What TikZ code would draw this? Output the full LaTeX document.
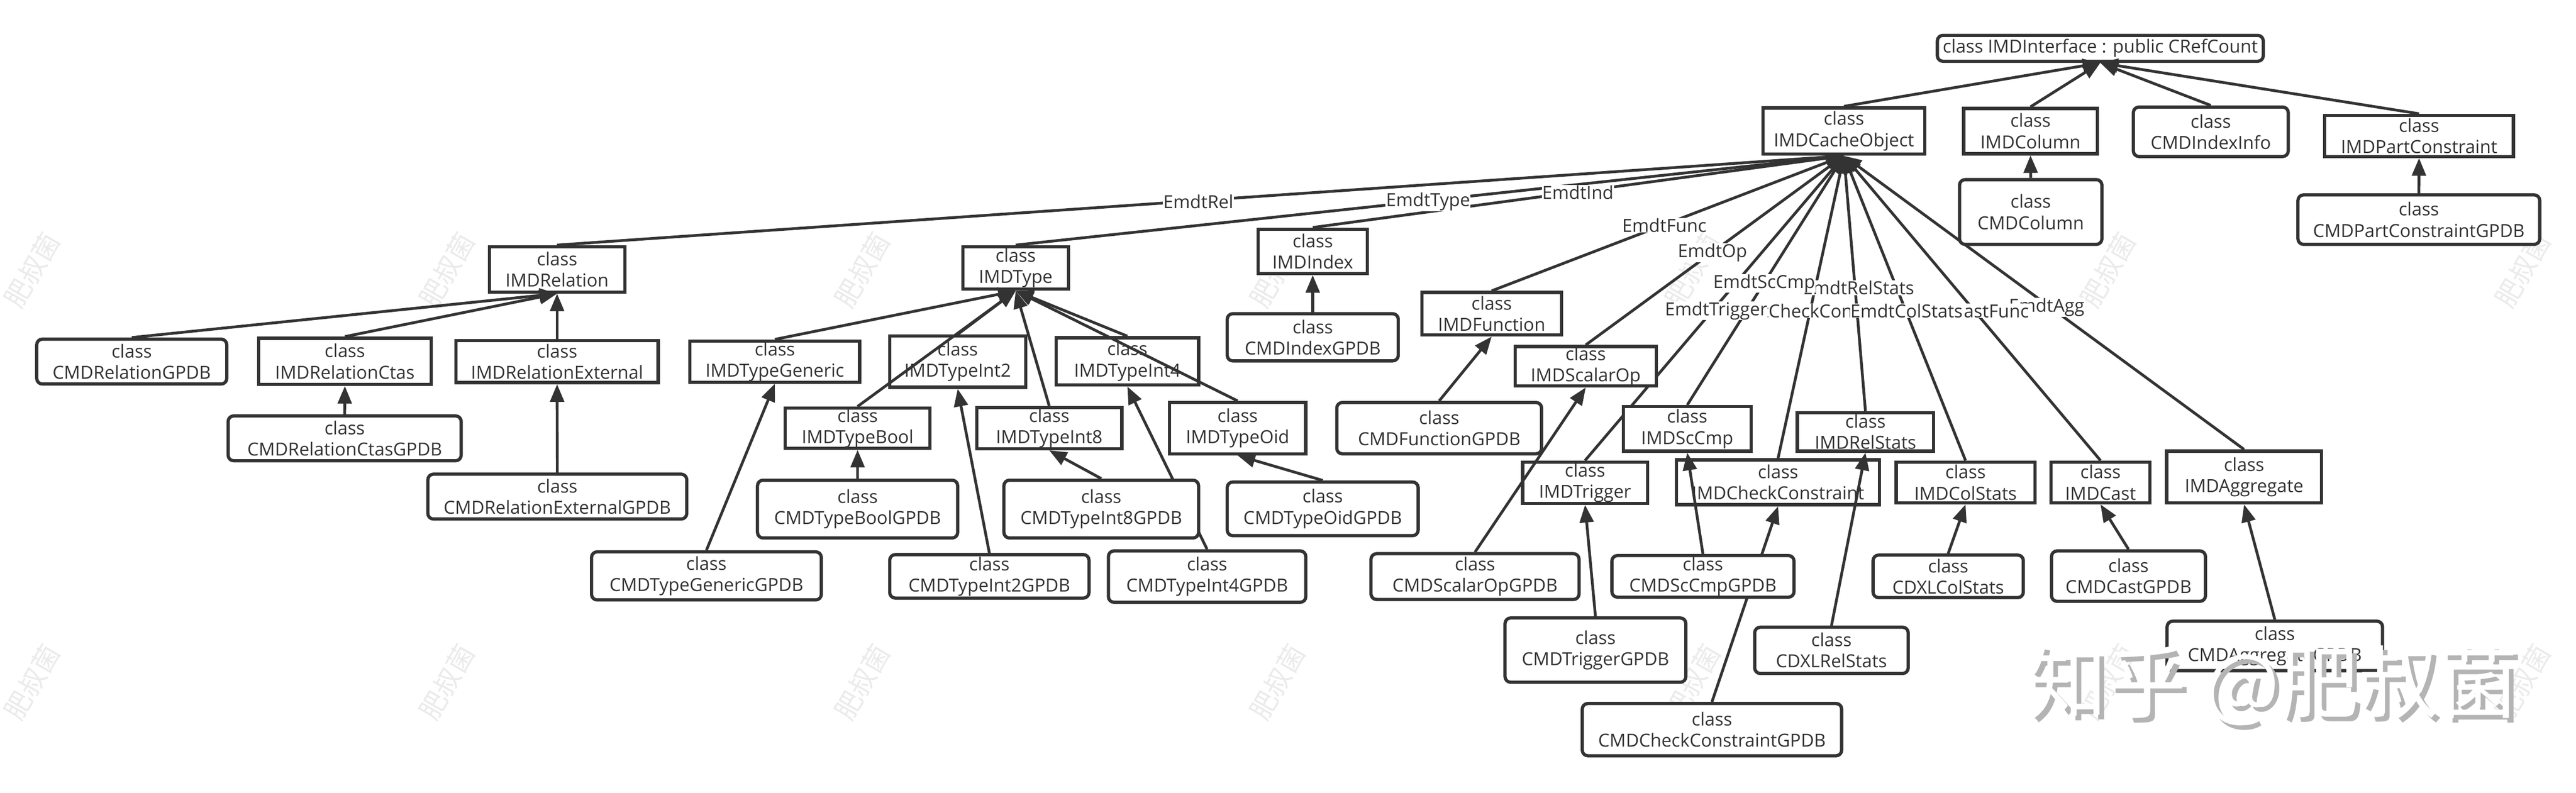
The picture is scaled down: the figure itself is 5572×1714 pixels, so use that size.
\documentclass[tikz,border=0pt]{standalone}
\usepackage{fontspec}
\setmainfont{Open Sans}
\newfontfamily\cjkfont{Noto Sans CJK SC}
\usetikzlibrary{arrows.meta,backgrounds}
\pgfdeclarelayer{wmlayer}
\pgfdeclarelayer{backlayer}
\pgfdeclarelayer{frontlayer}
\pgfsetlayers{wmlayer,backlayer,main,frontlayer}
\definecolor{ink}{HTML}{333333}
\definecolor{wmgray}{HTML}{EBEBEB}
\definecolor{shadowgray}{HTML}{B4B4B4}
\tikzset{
  classbox/.style={draw=ink,fill=white,text=ink,line width=7pt,inner sep=0pt,align=center,
    font=\fontsize{39}{46}\selectfont},
  ibox/.style={classbox},
  cbox/.style={classbox,rounded corners=12pt},
  dep/.style={draw=ink,line width=6pt,-{Triangle[length=38pt,width=30pt]}},
  lbl/.style={fill=white,text=ink,inner sep=1pt,font=\fontsize{39}{46}\selectfont},
  wm/.style={text=wmgray,rotate=60,font=\cjkfont\fontsize{58}{58}\selectfont},
  bigwm/.style={font=\cjkfont\fontsize{172}{172}\selectfont,inner sep=0pt}
}
\newcommand\cls[6]{%
  \pgfmathsetmacro\bw{#5-#3-7}\pgfmathsetmacro\bh{#6-#4-7}%
  \node[#1,minimum width=\bw pt,minimum height=\bh pt] (#2) at ({(#3+#5)/2},{(#4+#6)/2}) {class\\#2};}
\newcommand\wmark[3]{\node[wm] (#1) at (#2,#3) {肥叔菌};}
\begin{document}
\begin{tikzpicture}[x=1pt,y=-1pt]
\useasboundingbox (0,0) rectangle (5572,1714);
\begin{pgfonlayer}{wmlayer}
\fill[white] (0,0) rectangle (5572,1714);
\wmark{wa}{69}{584}\wmark{wb}{967}{584}\wmark{wc}{1865}{584}\wmark{wd}{2763}{584}\wmark{we}{3661}{584}\wmark{wf}{4559}{584}\wmark{wg}{5457}{584}
\wmark{wh}{69}{1475}\wmark{wi}{967}{1475}\wmark{wj}{1865}{1475}\wmark{wk}{2763}{1475}\wmark{wl}{3661}{1475}\wmark{wm}{4559}{1475}\wmark{wn}{5457}{1475}
\end{pgfonlayer}
% top
\node[cbox,minimum width=705pt,minimum height=56pt] (IMDInterface) at (4543,104.5) {class IMDInterface : public CRefCount};
\cls{ibox}{IMDCacheObject}{3810}{230}{4167}{337}
\cls{ibox}{IMDColumn}{4244}{231}{4540}{336}
\node[cbox,minimum width=335pt,minimum height=107pt] (CMDIndexInfo) at (4782,285) {class\\CMDIndexInfo};
\cls{ibox}{IMDPartConstraint}{5025}{246}{5440}{342}
\cls{cbox}{CMDColumn}{4235}{385}{4550}{532}
\cls{cbox}{CMDPartConstraintGPDB}{4967}{418}{5497}{532}
% relation
\cls{ibox}{IMDRelation}{1055}{530}{1355}{635}
\cls{cbox}{CMDRelationGPDB}{76}{730}{494}{834}
\cls{ibox}{IMDRelationCtas}{556}{728}{936}{835}
\cls{ibox}{IMDRelationExternal}{983}{733}{1427}{831}
\cls{cbox}{CMDRelationCtasGPDB}{490}{896}{1001}{1000}
\cls{cbox}{CMDRelationExternalGPDB}{922}{1022}{1489}{1126}
% type
\cls{ibox}{IMDType}{2079}{530}{2315}{629}
\cls{ibox}{IMDTypeGeneric}{1489}{734}{1863}{830}
\cls{ibox}{IMDTypeInt2}{1921}{723}{2222}{841}
\cls{ibox}{IMDTypeInt4}{2281}{727}{2596}{836}
\cls{ibox}{IMDTypeBool}{1695}{879}{2015}{973}
\cls{ibox}{IMDTypeInt8}{2109}{878}{2430}{974}
\cls{ibox}{IMDTypeOid}{2526}{867}{2828}{985}
\cls{cbox}{CMDTypeBoolGPDB}{1635}{1035}{2075}{1167}
\cls{cbox}{CMDTypeInt8GPDB}{2168}{1035}{2596}{1167}
\cls{cbox}{CMDTypeOidGPDB}{2651}{1039}{3071}{1162}
\cls{cbox}{CMDTypeGenericGPDB}{1276}{1190}{1780}{1301}
\cls{cbox}{CMDTypeInt2GPDB}{1921}{1196}{2359}{1297}
\cls{cbox}{CMDTypeInt4GPDB}{2394}{1188}{2828}{1306}
% index, function, scalar op, trigger
\cls{ibox}{IMDIndex}{2718}{492}{2961}{595}
\cls{cbox}{CMDIndexGPDB}{2651}{675}{3028}{784}
\cls{ibox}{IMDFunction}{3072}{629}{3381}{728}
\cls{cbox}{CMDFunctionGPDB}{2888}{867}{3338}{985}
\cls{ibox}{IMDScalarOp}{3274}{748}{3586}{836}
\cls{cbox}{CMDScalarOpGPDB}{2962}{1194}{3419}{1300}
\cls{ibox}{IMDTrigger}{3290}{996}{3567}{1092}
\cls{cbox}{CMDTriggerGPDB}{3252}{1333}{3650}{1479}
% stats
\cls{ibox}{IMDScCmp}{3508}{876}{3791}{979}
\cls{ibox}{IMDRelStats}{3884}{889}{4186}{979}
\cls{ibox}{IMDCheckConstraint}{3623}{991}{4069}{1095}
\cls{ibox}{IMDColStats}{4098}{996}{4405}{1091}
\cls{ibox}{IMDCast}{4433}{996}{4654}{1091}
\cls{ibox}{IMDAggregate}{4683}{972}{5025}{1091}
\cls{cbox}{CMDScCmpGPDB}{3483}{1198}{3884}{1295}
\cls{cbox}{CDXLColStats}{4048}{1197}{4380}{1296}
\cls{cbox}{CMDCastGPDB}{4434}{1188}{4774}{1304}
\cls{cbox}{CMDAggregateGPDB}{4684}{1340}{5157}{1454}
\cls{cbox}{CDXLRelStats}{3792}{1353}{4131}{1460}
\cls{cbox}{CMDCheckConstraintGPDB}{3419}{1518}{3987}{1638}
% edges hidden by boxes
\begin{pgfonlayer}{backlayer}
\draw[dep] (IMDAggregate.north) -- (IMDCacheObject.south);
\draw[dep] (IMDTrigger.north) -- (IMDCacheObject.south);
\draw[dep] (CMDTypeInt4GPDB.north) -- (IMDTypeInt4.south);
\draw[dep] (CMDCheckConstraintGPDB.north) -- (IMDCheckConstraint.south);
\draw[dep] (IMDCheckConstraint.north) -- (IMDCacheObject.south);
\draw[dep] (IMDScCmp.north) -- (IMDCacheObject.south);
\draw[dep] (IMDRelStats.north) -- (IMDCacheObject.south);
\draw[dep] (IMDColStats.north) -- (IMDCacheObject.south);
\draw[dep] (IMDCast.north) -- (IMDCacheObject.south);
\draw[dep] (IMDScalarOp.north) -- (IMDCacheObject.south);
\draw[dep] (IMDFunction.north) -- (IMDCacheObject.south);
\draw[dep] (IMDIndex.north) -- (IMDCacheObject.south);
\draw[dep] (IMDType.north) -- (IMDCacheObject.south);
\draw[dep] (IMDRelation.north) -- (IMDCacheObject.south);
\end{pgfonlayer}
% edges over boxes
\draw[dep] (IMDCacheObject.north) -- (IMDInterface.south);
\draw[dep] (IMDColumn.north) -- (IMDInterface.south);
\draw[dep] (CMDIndexInfo.north) -- (IMDInterface.south);
\draw[dep] (IMDPartConstraint.north) -- (IMDInterface.south);
\draw[dep] (CMDColumn.north) -- (IMDColumn.south);
\draw[dep] (CMDPartConstraintGPDB.north) -- (IMDPartConstraint.south);
\draw[dep] (CMDRelationGPDB.north) -- (IMDRelation.south);
\draw[dep] (IMDRelationCtas.north) -- (IMDRelation.south);
\draw[dep] (IMDRelationExternal.north) -- (IMDRelation.south);
\draw[dep] (CMDRelationCtasGPDB.north) -- (IMDRelationCtas.south);
\draw[dep] (CMDRelationExternalGPDB.north) -- (IMDRelationExternal.south);
\draw[dep] (IMDTypeGeneric.north) -- (IMDType.south);
\draw[dep] (IMDTypeInt2.north) -- (IMDType.south);
\draw[dep] (IMDTypeBool.north) -- (IMDType.south);
\draw[dep] (IMDTypeInt8.north) -- (IMDType.south);
\draw[dep] (IMDTypeInt4.north) -- (IMDType.south);
\draw[dep] (IMDTypeOid.north) -- (IMDType.south);
\draw[dep] (CMDTypeGenericGPDB.north) -- (IMDTypeGeneric.south);
\draw[dep] (CMDTypeInt2GPDB.north) -- (IMDTypeInt2.south);
\draw[dep] (CMDTypeBoolGPDB.north) -- (IMDTypeBool.south);
\draw[dep] (CMDTypeInt8GPDB.north) -- (IMDTypeInt8.south);
\draw[dep] (CMDTypeOidGPDB.north) -- (IMDTypeOid.south);
\draw[dep] (CMDIndexGPDB.north) -- (IMDIndex.south);
\draw[dep] (CMDFunctionGPDB.north) -- (IMDFunction.south);
\draw[dep] (CMDScalarOpGPDB.north) -- (IMDScalarOp.south);
\draw[dep] (CMDTriggerGPDB.north) -- (IMDTrigger.south);
\draw[dep] (CMDScCmpGPDB.north) -- (IMDScCmp.south);
\draw[dep] (CDXLRelStats.north) -- (IMDRelStats.south);
\draw[dep] (CDXLColStats.north) -- (IMDColStats.south);
\draw[dep] (CMDCastGPDB.north) -- (IMDCast.south);
\draw[dep] (CMDAggregateGPDB.north) -- (IMDAggregate.south);
% labels
\begin{pgfonlayer}{frontlayer}
\node[lbl] (lRel) at (2592,436) {EmdtRel};
\node[lbl] (lType) at (3089,436) {EmdtType};
\node[lbl] (lInd) at (3413,416) {EmdtInd};
\node[lbl] (lFunc) at (3600,487) {EmdtFunc};
\node[lbl] (lOp) at (3704,547) {EmdtOp};
\node[lbl] (lAgg) at (4427,665) {EmdtAgg};
\node[lbl] (lCast) at (4258,672) {EmdtCastFunc};
\node[lbl] (lCheck) at (3927,672) {EmdtCheckConstraint};
\node[lbl] (lCol) at (4124,672) {EmdtColStats};
\node[lbl] (lTrig) at (3712,672) {EmdtTrigger};
\node[lbl] (lRelS) at (4020,622) {EmdtRelStats};
\node[lbl] (lSc) at (3816,613) {EmdtScCmp};
\node[bigwm,text=shadowgray] (wmshadow) at (4926,1492) {知乎 @肥叔菌};
\node[bigwm,text=white] (wmbig) at (4916,1482) {知乎 @肥叔菌};
\end{pgfonlayer}
\end{tikzpicture}
\end{document}
